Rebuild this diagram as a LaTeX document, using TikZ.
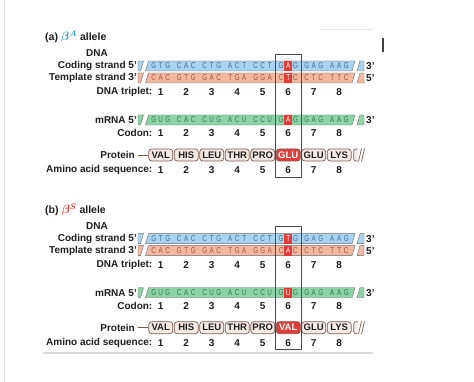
\documentclass[tikz,border=0pt]{standalone}
\usepackage{fontspec}
\setmainfont{Liberation Sans}
\newfontfamily\basefont[FakeStretch=0.74]{Liberation Sans}
\definecolor{cblue}{HTML}{A9D3EE}
\definecolor{cbluetxt}{HTML}{3E6E98}
\definecolor{csalmon}{HTML}{F2B8A0}
\definecolor{csalmontxt}{HTML}{A5523A}
\definecolor{cgreen}{HTML}{8ED3A6}
\definecolor{cgreentxt}{HTML}{2F7D4E}
\definecolor{cred}{HTML}{E53A35}
\definecolor{bead}{HTML}{F7EAE5}
\definecolor{beadline}{HTML}{7A5C52}
\definecolor{edge}{HTML}{6B6B6B}
\definecolor{betaA}{HTML}{2E9BD6}
\definecolor{betaS}{HTML}{E5382F}
\tikzset{
  lbl/.style={font=\bfseries\fontsize{10}{11}\selectfont, inner sep=0pt, text=black!88},
  base/.style={font=\basefont\fontsize{8.5}{9}\selectfont, inner sep=0pt},
  beadbox/.style={draw=beadline, fill=bead, rounded corners=3pt, line width=0.7pt,
    minimum width=24pt, minimum height=12pt, inner sep=0pt, text=black!88,
    font=\bfseries\fontsize{9.5}{10}\selectfont},
  frame6/.style={draw=black!70, line width=0.8pt},
  strandedge/.style={draw=edge, line width=0.4pt}
}
% #1 name, #2 y, #3 fill, #4 text colour, #5 codons
\newcommand\strandrow[5]{%
  \filldraw[fill=#3,strandedge] (138,#2-5) -- (143.5,#2-5) -- (140.5,#2+5) -- (138,#2+5) -- cycle;
  \filldraw[fill=#3,strandedge] (148.5,#2-5) -- (355,#2-5) -- (352,#2+5) -- (145.5,#2+5) -- cycle;
  \filldraw[fill=#3,strandedge] (360,#2-5) -- (364,#2-5) -- (364,#2+5) -- (357,#2+5) -- cycle;
  \foreach \p/\q/\r [count=\k] in {#5} {
    \pgfmathsetmacro\cx{160.75+25.5*(\k-1)}
    \ifnum\k=6
      \fill[cred] (\cx-3.8,#2-5) rectangle (\cx+3.8,#2+5);
      \node[base,text=#4] (#1x\k) at (\cx-7.2,#2) {\p};
      \node[base,text=white] (#1y\k) at (\cx,#2) {\q};
      \node[base,text=#4] (#1z\k) at (\cx+7.2,#2) {\r};
    \else
      \node[base,text=#4] (#1x\k) at (\cx-7,#2) {\p};
      \node[base,text=#4] (#1y\k) at (\cx,#2) {\q};
      \node[base,text=#4] (#1z\k) at (\cx+7,#2) {\r};
    \fi
  }
}
% #1 name, #2 y, #3 label
\newcommand\numrow[3]{%
  \node[lbl, anchor=east] (#1lab) at (152.5,#2) {#3};
  \foreach \k in {1,...,8} {
    \node[lbl] (#1n\k) at (135.25+25.5*\k,#2) {\k};
  }
}
% #1 name, #2 y, #3 amino acids
\newcommand\proteinrow[3]{%
  \node[lbl, anchor=east] (#1prot) at (135,#2) {Protein};
  \foreach \aa [count=\k] in {#3} {
    \pgfmathsetmacro\cx{160.75+25.5*(\k-1)}
    \ifnum\k=6
      \node[beadbox, fill=cred, text=white] (#1aa\k) at (\cx,#2) {\aa};
    \else
      \node[beadbox] (#1aa\k) at (\cx,#2) {\aa};
    \fi
  }
  \draw[beadline, line width=0.9pt, shorten <=2.5pt] (#1prot.east) -- (#1aa1.west);
  \draw[beadline, fill=bead, line width=0.7pt, rounded corners=2pt]
    (357.5,#2-6) -- (353.8,#2-6) -- (353.8,#2+6) -- (357.5,#2+6);
  \draw[beadline, line width=0.7pt] (358.5,#2+6.5) -- (361.5,#2-6.5);
  \draw[beadline, line width=0.7pt] (361.5,#2+6.5) -- (364.5,#2-6.5);
}
% #1 prefix, #2 title, #3 coding, #4 template, #5 mRNA, #6 protein
\newcommand\genepanel[6]{%
  \node[lbl, anchor=west, font=\bfseries\fontsize{10.5}{12}\selectfont] (#1title) at (45,37) {#2};
  \node[lbl] (#1dna) at (97,53) {DNA};
  \node[lbl, anchor=east] (#1codlab) at (137,66) {Coding strand 5'};
  \strandrow{#1cod}{66}{cblue}{cbluetxt}{#3}
  \node[lbl, anchor=west] (#1codend) at (366,66) {3'};
  \node[lbl, anchor=east] (#1tmplab) at (137,78) {Template strand 3'};
  \strandrow{#1tmp}{78}{csalmon}{csalmontxt}{#4}
  \node[lbl, anchor=west] (#1tmpend) at (366,78) {5'};
  \numrow{#1tri}{92}{DNA triplet:}
  \node[lbl, anchor=east] (#1mlab) at (137,120) {mRNA 5'};
  \strandrow{#1mrna}{120}{cgreen}{cgreentxt}{#5}
  \node[lbl, anchor=west] (#1mend) at (366,120) {3'};
  \numrow{#1codon}{133}{Codon:}
  \proteinrow{#1}{155}{#6}
  \numrow{#1aas}{170}{Amino acid sequence:}
  \draw[frame6] (275.5,54) rectangle (301,177);
}
\begin{document}
\begin{tikzpicture}[x=1pt,y=-1pt]
\useasboundingbox[fill=white] (0,0) rectangle (474,382);
% faint page edges
\draw[black!12, line width=1pt] (4,0) -- (4,382);
\draw[black!10, line width=0.8pt] (320,29) -- (373,29);
\draw[black!75, line width=1.2pt] (383,38) -- (383,52);
\genepanel{a}{(a) \textcolor{betaA}{\fontsize{12}{12}\selectfont\boldmath$\beta^{A}$} allele}
  {G/T/G,C/A/C,C/T/G,A/C/T,C/C/T,G/A/G,G/A/G,A/A/G}
  {C/A/C,G/T/G,G/A/C,T/G/A,G/G/A,C/T/C,C/T/C,T/T/C}
  {G/U/G,C/A/C,C/U/G,A/C/U,C/C/U,G/A/G,G/A/G,A/A/G}
  {VAL,HIS,LEU,THR,PRO,GLU,GLU,LYS}
\begin{scope}[yshift=-172.7pt]
\genepanel{b}{(b) \textcolor{betaS}{\fontsize{12}{12}\selectfont\boldmath$\beta^{S}$} allele}
  {G/T/G,C/A/C,C/T/G,A/C/T,C/C/T,G/T/G,G/A/G,A/A/G}
  {C/A/C,G/T/G,G/A/C,T/G/A,G/G/A,C/A/C,C/T/C,T/T/C}
  {G/U/G,C/A/C,C/U/G,A/C/U,C/C/U,G/U/G,G/A/G,A/A/G}
  {VAL,HIS,LEU,THR,PRO,VAL,GLU,LYS}
\end{scope}
\draw[black!15, line width=2pt] (43,352.5) -- (373,352.5);
\end{tikzpicture}
\end{document}
